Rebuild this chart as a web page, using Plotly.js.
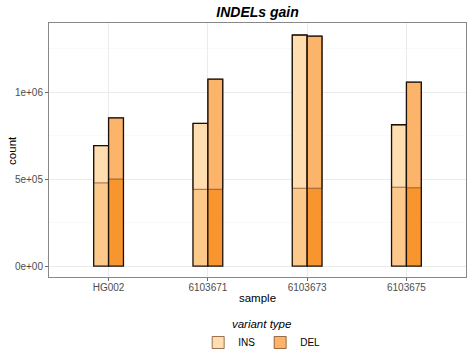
<!DOCTYPE html>
<html>
<head>
<meta charset="utf-8">
<script src="https://cdn.plot.ly/plotly-3.0.1.min.js"></script>
<style>html,body{margin:0;padding:0;background:#fff;}#chart{width:474px;height:364px;}</style>
</head>
<body>
<div id="chart"></div>
<script>
const samples = ['HG002', '6103671', '6103673', '6103675'];
const insTotal = [692000, 820000, 1328000, 812000];
const insBase = [478000, 441000, 447000, 453000];
const delTotal = [852000, 1074000, 1322000, 1057000];
const delBase = [500000, 441000, 447000, 450000];
const yTickVals = [0, 500000, 1000000];
const yTickText = ['0e+00', '5e+05', '1e+06'];

const diff = (a, b) => a.map((v, i) => v - b[i]);
const inner = 'rgba(110,60,20,0.7)';

const traces = [
  {type:'bar', x:samples, y:insBase, offsetgroup:'INS', marker:{color:'#FDC98B', line:{width:0}}, showlegend:false, hoverinfo:'skip'},
  {type:'bar', x:samples, y:diff(insTotal, insBase), base:insBase, offsetgroup:'INS', name:'INS', marker:{color:'#FEDDB1', line:{width:1, color:inner}}},
  {type:'bar', x:samples, y:insTotal, offsetgroup:'INS', marker:{color:'rgba(0,0,0,0)', line:{width:1.3, color:'#1a1008'}}, showlegend:false, hoverinfo:'skip'},
  {type:'bar', x:samples, y:delBase, offsetgroup:'DEL', marker:{color:'#F8952E', line:{width:0}}, showlegend:false, hoverinfo:'skip'},
  {type:'bar', x:samples, y:diff(delTotal, delBase), base:delBase, offsetgroup:'DEL', name:'DEL', marker:{color:'#FCB36A', line:{width:1, color:inner}}},
  {type:'bar', x:samples, y:delTotal, offsetgroup:'DEL', marker:{color:'rgba(0,0,0,0)', line:{width:1.3, color:'#1a1008'}}, showlegend:false, hoverinfo:'skip'}
];

const layout = {
  width:474, height:364,
  margin:{l:49, r:8, t:23, b:87, autoexpand:false},
  paper_bgcolor:'#fff', plot_bgcolor:'#fff',
  font:{family:'Liberation Sans, Arial, sans-serif', color:'#000'},
  barmode:'group', bargap:0.7, bargroupgap:0,
  title:{text:'INDELs gain', font:{size:14, weight:'bold', style:'italic', color:'#000'}, x:0.5, xref:'paper', xanchor:'center', y:0.967, yref:'container', yanchor:'middle'},
  xaxis:{
    type:'category', range:[-0.6, 3.6],
    showgrid:true, gridcolor:'#ebebeb', gridwidth:1,
    showline:true, mirror:true, linecolor:'#888', linewidth:1,
    ticks:'outside', ticklen:3, tickcolor:'#444', tickwidth:0.8,
    ticklabelstandoff:-2,
    tickfont:{size:10, color:'#4d4d4d'},
    title:{text:'sample', font:{size:11.5}, standoff:1},
    zeroline:false, automargin:false
  },
  yaxis:{
    range:[-63000, 1397000],
    tickmode:'array', tickvals:yTickVals, ticktext:yTickText,
    showgrid:true, gridcolor:'#ebebeb', gridwidth:1,
    minor:{tickmode:'linear', tick0:0, dtick:250000, showgrid:true, gridcolor:'#f5f5f5', gridwidth:0.6, ticks:''},
    showline:true, mirror:true, linecolor:'#888', linewidth:1,
    ticks:'outside', ticklen:3, tickcolor:'#444', tickwidth:0.8,
    tickfont:{size:10, color:'#4d4d4d'},
    zeroline:false, automargin:false
  },
  annotations:[
    {text:'count', xref:'paper', yref:'paper', x:-0.089, y:0.5, xanchor:'center', yanchor:'middle', textangle:-90, showarrow:false, font:{size:11.5, color:'#000'}}
  ],
  legend:{
    orientation:'h', x:0.51, xanchor:'center', y:0.14, yref:'container', yanchor:'top',
    title:{text:'<i>variant type</i>', side:'top center', font:{size:11.5}},
    font:{size:10}, traceorder:'normal', itemwidth:30
  },
  showlegend:true
};

Plotly.newPlot('chart', traces, layout, {displayModeBar:false, staticPlot:true});
</script>
</body>
</html>
